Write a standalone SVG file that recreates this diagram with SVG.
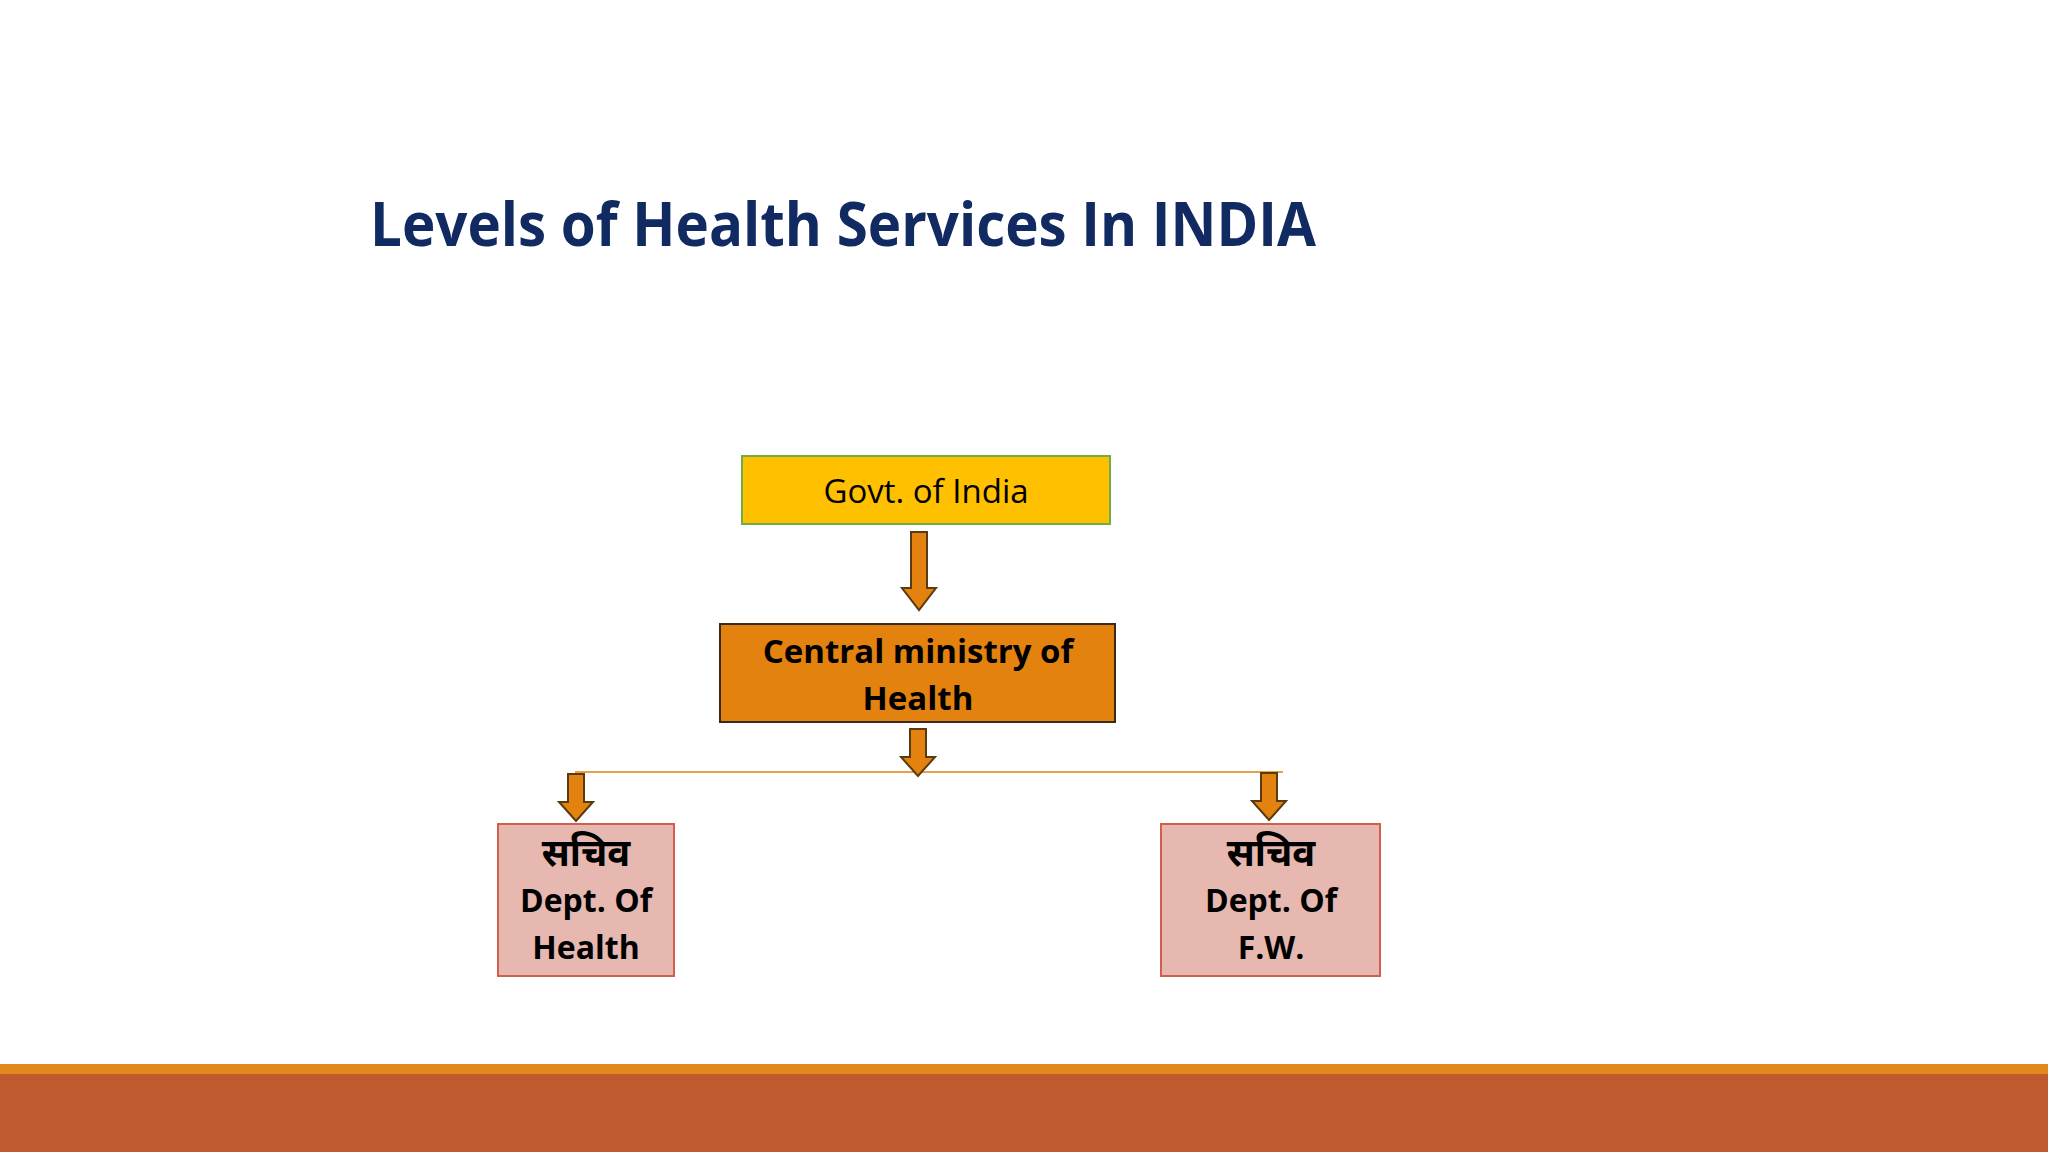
<svg xmlns="http://www.w3.org/2000/svg" width="2048" height="1152" viewBox="0 0 2048 1152">
<defs>
<style>
.t{font-family:"Open Sans","Noto Sans","Liberation Sans",sans-serif;text-anchor:middle;fill:#000}
.b{font-weight:bold}
.arr{fill:#E4820F;stroke:#5A3A10;stroke-width:2}
</style>
</defs>
<rect width="2048" height="1152" fill="#fff"/>
<text x="370" y="246" font-family="'Open Sans','Noto Sans',sans-serif" font-weight="bold" font-size="60" fill="#112A61" textLength="946" lengthAdjust="spacingAndGlyphs">Levels of Health Services In INDIA</text>
<g id="connectors">
<line x1="575" y1="772" x2="1283" y2="772" stroke="#E4A04A" stroke-width="2"/>
<path class="arr" d="M911 532h16v56h9l-17 22l-17-22h9z"/>
<path class="arr" d="M910 729h16v28h9l-17 19l-17-19h9z"/>
<path class="arr" d="M568 774h16v28h9l-17 19l-17-19h9z"/>
<path class="arr" d="M1261 773h16v28h9l-17 19l-17-19h9z"/>
</g>
<g id="govt">
<rect x="742" y="456" width="368" height="68" fill="#FFC000" stroke="#70AD47" stroke-width="2"/>
<text class="t" x="926" y="503" font-size="33">Govt. of India</text>
</g>
<g id="central">
<rect x="720" y="624" width="395" height="98" fill="#E4820F" stroke="#3B2A1A" stroke-width="2"/>
<text class="t b" x="918" y="663" font-size="33">Central ministry of</text>
<text class="t b" x="918" y="710" font-size="33">Health</text>
</g>
<g id="health">
<rect x="498" y="824" width="176" height="152" fill="#E6B8B0" stroke="#D0604D" stroke-width="2"/>
<text class="t b" x="586" y="866" font-size="38" font-family="'Noto Sans Devanagari','Noto Sans',sans-serif">सचिव</text>
<text class="t b" x="586" y="912" font-size="32">Dept. Of</text>
<text class="t b" x="586" y="959" font-size="32">Health</text>
</g>
<g id="fw">
<rect x="1161" y="824" width="219" height="152" fill="#E6B8B0" stroke="#D0604D" stroke-width="2"/>
<text class="t b" x="1271" y="866" font-size="38" font-family="'Noto Sans Devanagari','Noto Sans',sans-serif">सचिव</text>
<text class="t b" x="1271" y="912" font-size="32">Dept. Of</text>
<text class="t b" x="1271" y="959" font-size="32">F.W.</text>
</g>
<rect x="0" y="1064" width="2048" height="10" fill="#E08A1E"/>
<rect x="0" y="1074" width="2048" height="78" fill="#BE5A2E"/>
</svg>
